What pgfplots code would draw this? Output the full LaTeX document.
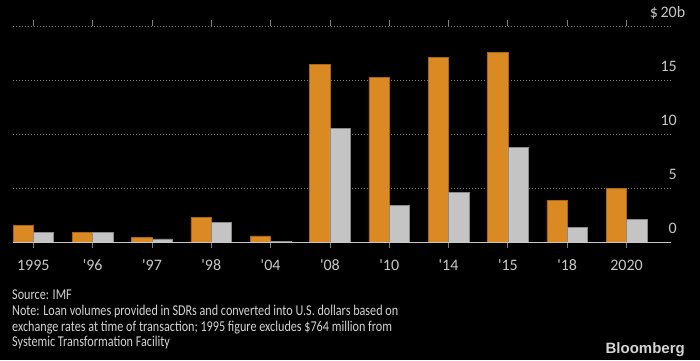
\documentclass[border=0pt]{standalone}
\usepackage{fontspec}
\setmainfont{Carlito}
\newfontfamily\notefont{Carlito}[FakeStretch=0.81]
\newfontfamily\logofont{Liberation Sans}
\usepackage{pgfplots}
\pgfplotsset{compat=1.18}
\definecolor{bgo}{HTML}{DB8A23}
\definecolor{bgoedge}{HTML}{A8661A}
\definecolor{bgg}{HTML}{C4C4C4}
\definecolor{bggedge}{HTML}{8A8A8A}
\definecolor{lbl}{HTML}{C8C8C8}
\definecolor{note}{HTML}{D4D4D4}
\definecolor{gridc}{HTML}{7A7A7A}
\begin{document}
\begin{tikzpicture}[x=1pt,y=1pt]
\fill[black] (0,0) rectangle (700,360);
\begin{axis}[
  at={(13pt,118pt)}, anchor=south west,
  scale only axis, width=658pt, height=216pt,
  xmin=-0.343, xmax=10.75, ymin=0, ymax=20,
  ybar=0pt, bar width=20.3pt,
  axis line style={draw=none},
  xtick={0,...,10},
  xticklabels={1995,\textquotesingle96,\textquotesingle97,\textquotesingle98,\textquotesingle04,\textquotesingle08,\textquotesingle10,\textquotesingle14,\textquotesingle15,\textquotesingle18,2020},
  ytick={0,5,10,15,20},
  yticklabels={0,5,10,15,{\$\,20\rlap{b}}},
  tick align=outside, major tick length=6pt,
  xtick style={draw=gray, line width=0.8pt},
  ytick style={draw=none},
  xticklabel style={font=\fontsize{16}{16}\selectfont, text=lbl, anchor=base, inner sep=0pt, yshift=-22pt},
  yticklabel pos=right,
  yticklabel style={font=\fontsize{16}{16}\selectfont, text=lbl, anchor=base east, inner sep=0pt, yshift=9pt},
  ymajorgrids, grid style={gridc, line width=1pt, dash pattern=on 1.2pt off 1.8pt},
  clip=false,
]
\addplot[fill=bgo, draw=bgoedge, line width=0.6pt] coordinates {
  (0,1.57) (1,0.90) (2,0.46) (3,2.25) (4,0.56) (5,16.45)
  (6,15.25) (7,17.10) (8,17.55) (9,3.86) (10,4.94)};
\addplot[fill=bgg, draw=bggedge, line width=0.6pt] coordinates {
  (0,0.90) (1,0.90) (2,0.28) (3,1.85) (4,0.05) (5,10.55)
  (6,3.36) (7,4.56) (8,8.77) (9,1.36) (10,2.07)};
\draw[lbl, line width=1pt] (rel axis cs:0,0) -- (rel axis cs:1,0);
\end{axis}
\node[anchor=base west, inner sep=0pt, text=note, font=\notefont\fontsize{15}{16}\selectfont] at (12,61) {Source: IMF};
\node[anchor=base west, inner sep=0pt, text=note, font=\notefont\fontsize{15}{16}\selectfont] at (12,45) {Note: Loan volumes provided in SDRs and converted into U.S. dollars based on};
\node[anchor=base west, inner sep=0pt, text=note, font=\notefont\fontsize{15}{16}\selectfont] at (12,29) {exchange rates at time of transaction; 1995 figure excludes \$764 million from};
\node[anchor=base west, inner sep=0pt, text=note, font=\notefont\fontsize{15}{16}\selectfont] at (12,13.3) {Systemic Transformation Facility};
\node[anchor=base east, inner sep=0pt, text=note, font=\logofont\bfseries\fontsize{15}{15}\selectfont] at (685,6.7) {Bloomberg};
\end{tikzpicture}
\end{document}
